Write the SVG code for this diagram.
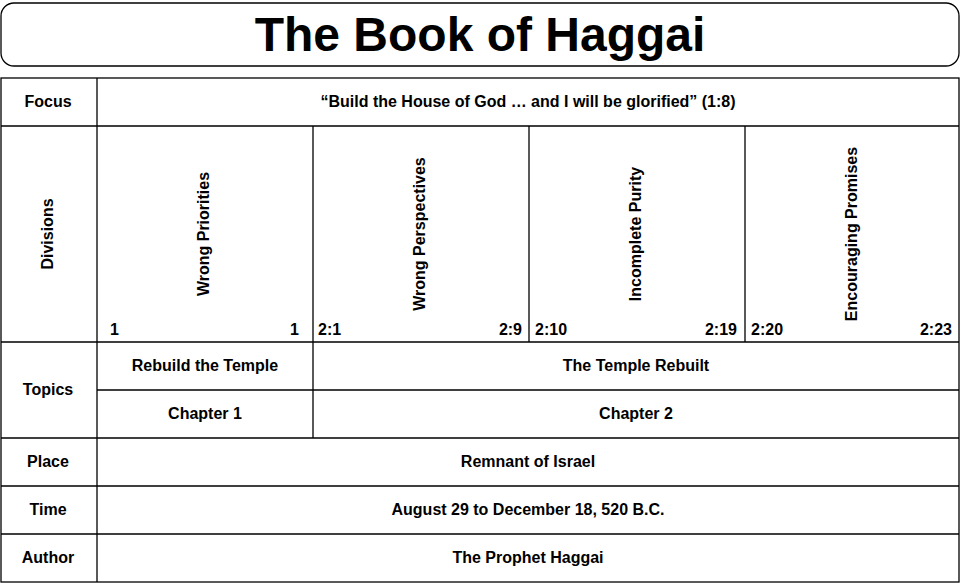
<svg xmlns="http://www.w3.org/2000/svg" width="961" height="583" viewBox="0 0 961 583">
<style>
.l{stroke:#000;stroke-width:1.3;fill:none}
text{font-family:"Liberation Sans",Arial,sans-serif;font-weight:bold;font-size:16px;fill:#000}
.c{text-anchor:middle}
.e{text-anchor:end}
</style>
<rect width="961" height="583" fill="#fff"/>
<g id="title"><rect class="l" x="1" y="3" width="958" height="63" rx="13"/>
<text class="c" x="480" y="51" style="font-size:48px">The Book of Haggai</text></g>
<g id="grid" class="l">
<rect x="1" y="78" width="958" height="504"/>
<path d="M97 78V582M1 126H959M1 342H959M97 390H959M1 438H959M1 486H959M1 534H959M313 126V438M529 126V342M745 126V342"/>
</g>
<g id="labels">
<text class="c" x="48" y="107">Focus</text>
<text class="c" transform="translate(53,234) rotate(-90)">Divisions</text>
<text class="c" x="48" y="395">Topics</text>
<text class="c" x="48" y="467">Place</text>
<text class="c" x="48" y="515">Time</text>
<text class="c" x="48" y="563">Author</text>
</g>
<g id="cells">
<text class="c" x="528" y="107">“Build the House of God … and I will be glorified” (1:8)</text>
<text class="c" transform="translate(209,234) rotate(-90)">Wrong Priorities</text>
<text class="c" transform="translate(425,234) rotate(-90)">Wrong Perspectives</text>
<text class="c" transform="translate(641,234) rotate(-90)">Incomplete Purity</text>
<text class="c" transform="translate(857,234) rotate(-90)">Encouraging Promises</text>
<text x="110" y="335">1</text><text class="e" x="299" y="335">1</text>
<text x="318" y="335">2:1</text><text class="e" x="522" y="335">2:9</text>
<text x="535" y="335">2:10</text><text class="e" x="737" y="335">2:19</text>
<text x="751" y="335">2:20</text><text class="e" x="952" y="335">2:23</text>
<text class="c" x="205" y="371">Rebuild the Temple</text>
<text class="c" x="636" y="371">The Temple Rebuilt</text>
<text class="c" x="205" y="419">Chapter 1</text>
<text class="c" x="636" y="419">Chapter 2</text>
<text class="c" x="528" y="467">Remnant of Israel</text>
<text class="c" x="528" y="515">August 29 to December 18, 520 B.C.</text>
<text class="c" x="528" y="563">The Prophet Haggai</text>
</g>
</svg>
